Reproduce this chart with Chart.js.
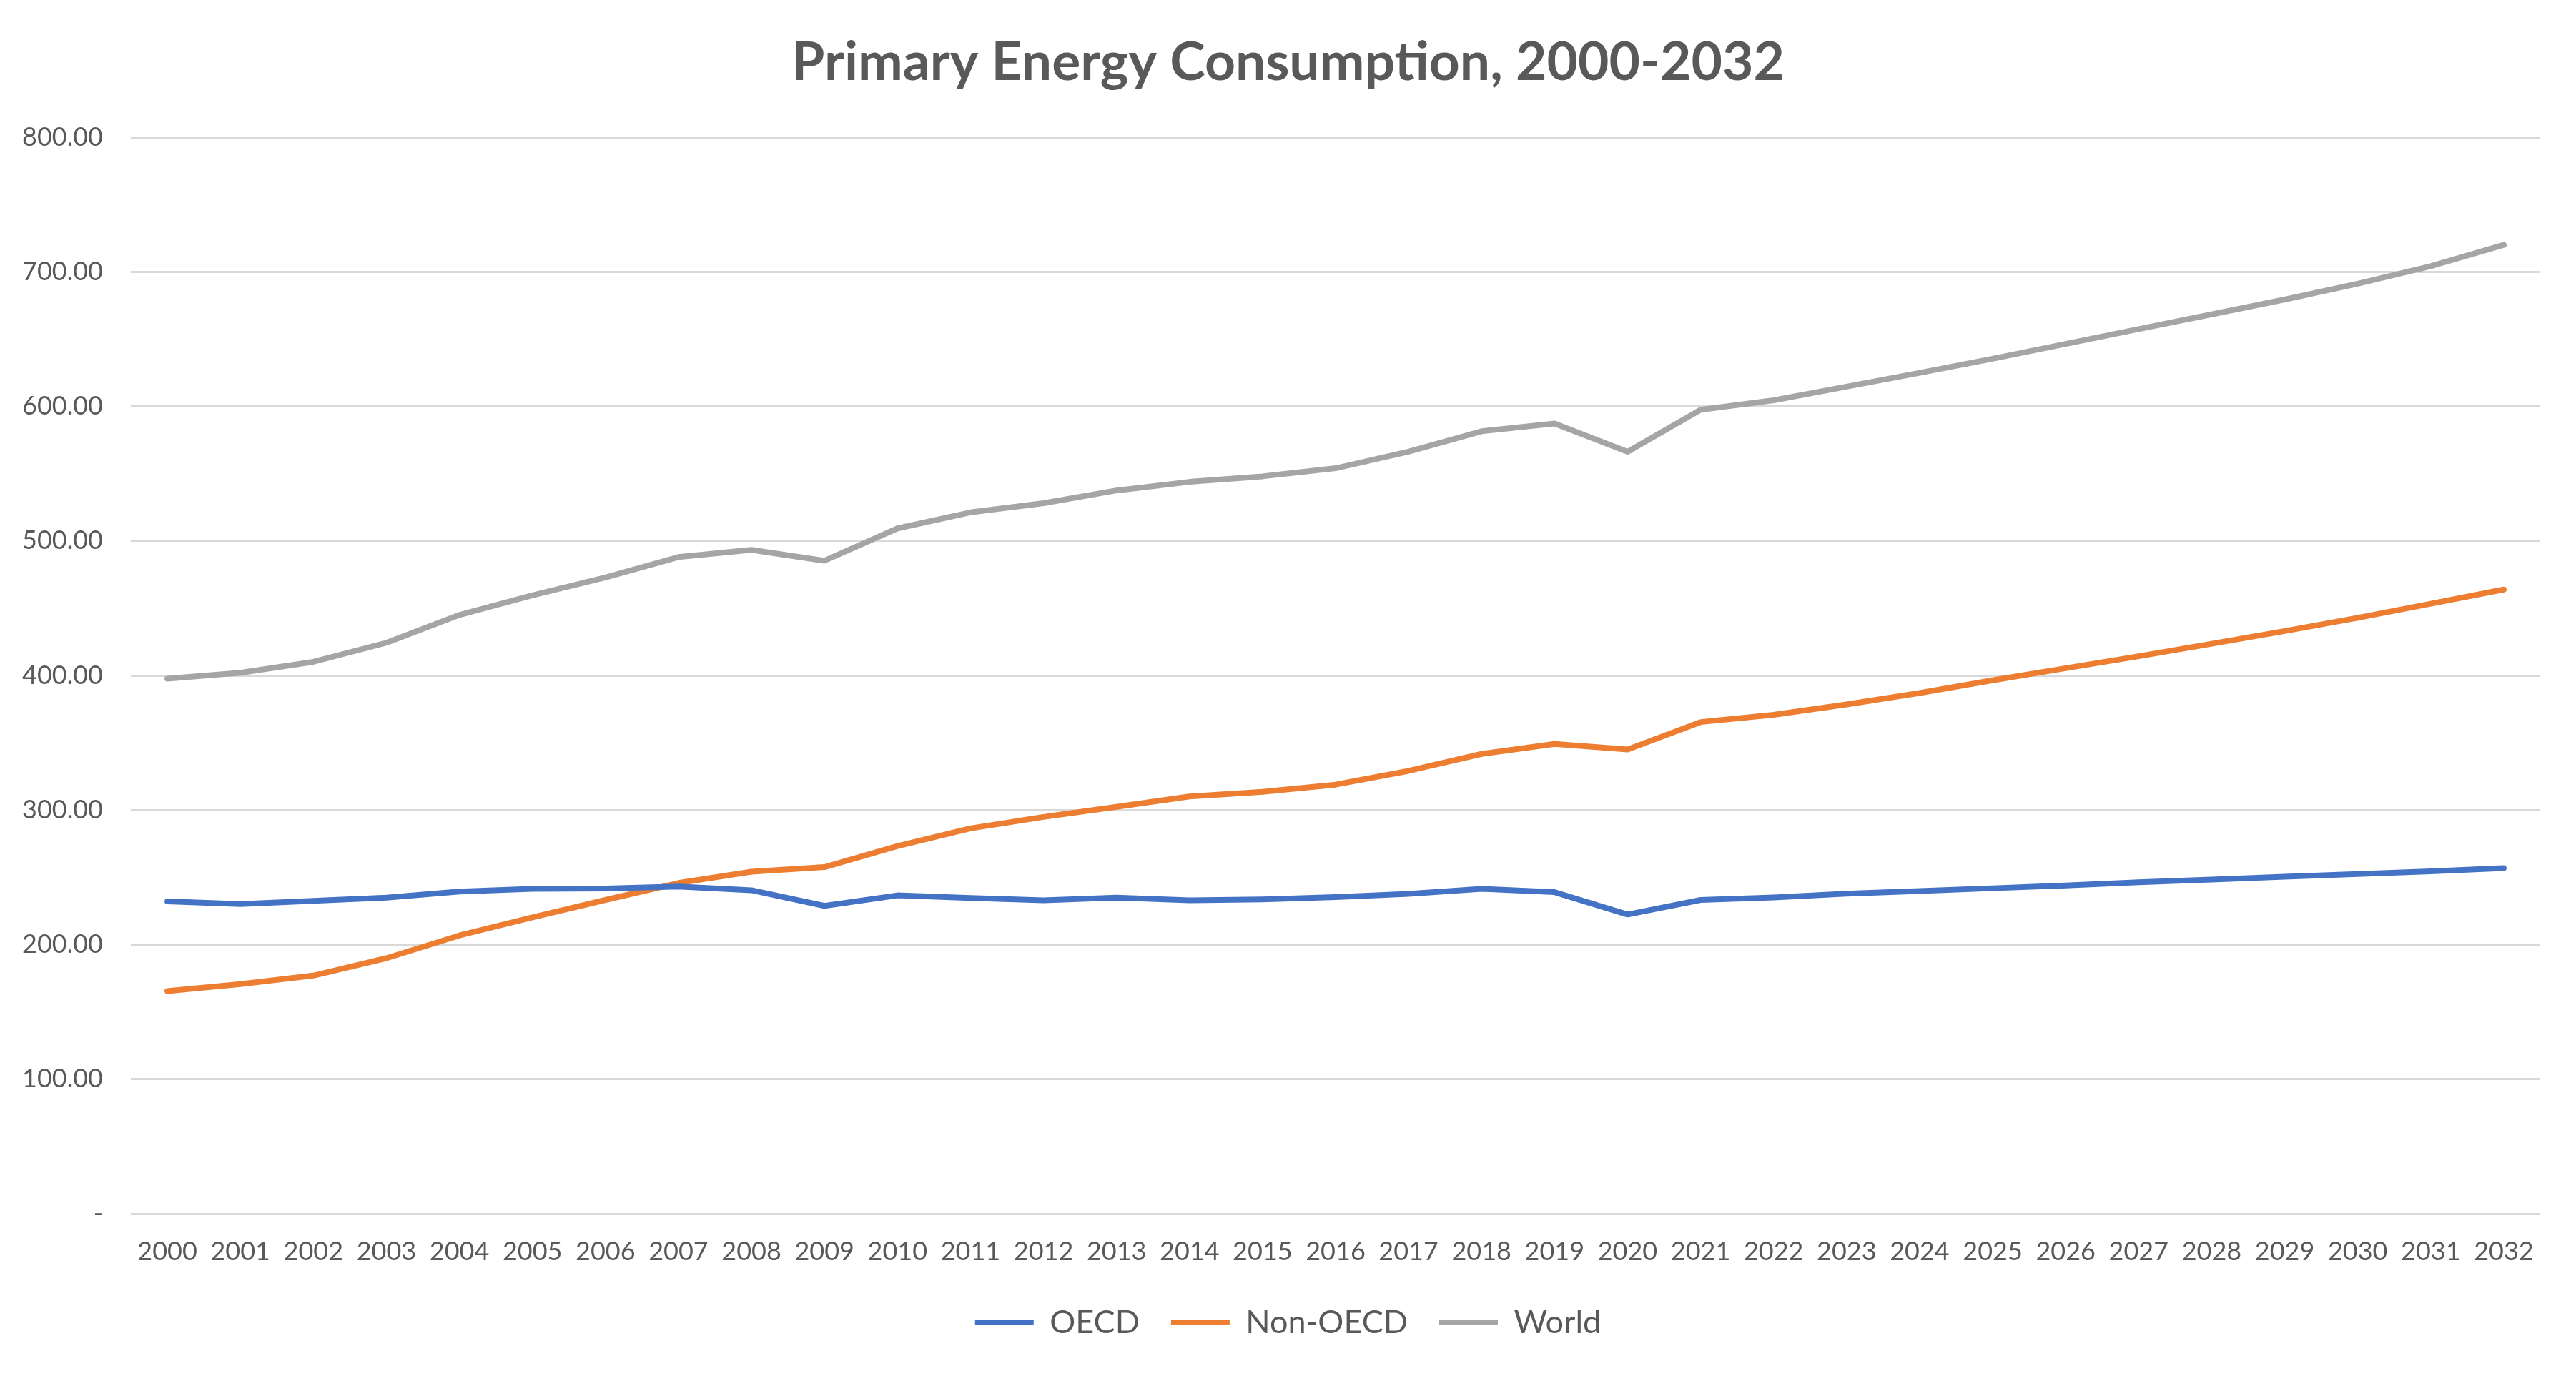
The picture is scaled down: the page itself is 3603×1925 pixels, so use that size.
<!DOCTYPE html>
<html>
<head>
<meta charset="utf-8">
<title>Primary Energy Consumption, 2000-2032</title>
<script src="https://cdn.jsdelivr.net/npm/chart.js@4.4.0/dist/chart.umd.min.js"></script>
<style>
  html, body { margin: 0; padding: 0; background: #fff; }
  #wrap { width: 3603px; height: 1925px; }
</style>
</head>
<body>
<div id="wrap"><canvas id="chart" width="3603" height="1925"></canvas></div>
<script>
'use strict';

// Data
const years = [
  '2000', '2001', '2002', '2003', '2004', '2005', '2006', '2007', '2008', '2009', '2010',
  '2011', '2012', '2013', '2014', '2015', '2016', '2017', '2018', '2019', '2020', '2021',
  '2022', '2023', '2024', '2025', '2026', '2027', '2028', '2029', '2030', '2031', '2032',
];

const oecd = [
  232.2, 230.2, 232.6, 234.9, 239.4, 241.4, 241.7, 243.1, 240.4, 228.8, 236.6,
  234.6, 232.9, 234.9, 232.9, 233.6, 235.3, 237.7, 241.4, 239.0, 222.4, 233.2,
  235.0, 237.9, 239.9, 241.9, 243.9, 246.4, 248.4, 250.4, 252.5, 254.5, 256.9,
];

const nonOecd = [
  165.5, 170.6, 177.0, 189.9, 206.8, 220.3, 233.2, 245.8, 254.2, 257.6, 273.2,
  286.4, 294.9, 302.4, 310.1, 313.5, 318.9, 329.1, 341.7, 349.1, 345.0, 365.4,
  370.8, 378.5, 387.0, 396.4, 405.4, 414.3, 423.6, 433.0, 442.8, 453.3, 463.9,
];

const world = [
  397.6, 402.0, 410.1, 424.3, 445.0, 459.6, 472.8, 488.0, 493.4, 485.3, 509.3,
  521.2, 528.0, 537.5, 543.9, 548.0, 554.0, 566.3, 581.5, 587.2, 566.3, 597.5,
  604.5, 614.7, 624.9, 635.4, 646.4, 657.4, 668.4, 679.4, 691.2, 704.2, 720.0,
];

const seriesNames = ['OECD', 'Non-OECD', 'World'];
const seriesColors = ['#4472C4', '#ED7D31', '#A5A5A5'];

const TEXT = '#595959';
const GRID = '#D9D9D9';
const FONT = 'Lato, "Open Sans", sans-serif';

function lineSet(label, data, color) {
  return {
    label,
    data,
    borderColor: color,
    backgroundColor: color,
    borderWidth: 8,
    borderCapStyle: 'round',
    borderJoinStyle: 'round',
    pointRadius: 0,
    pointHoverRadius: 0,
    tension: 0,
    fill: false,
  };
}

function draw() {
  Chart.defaults.font.family = FONT;
  Chart.defaults.color = TEXT;

  new Chart(document.getElementById('chart'), {
    type: 'line',
    data: {
      labels: years,
      datasets: [
        lineSet(seriesNames[0], oecd, seriesColors[0]),
        lineSet(seriesNames[1], nonOecd, seriesColors[1]),
        lineSet(seriesNames[2], world, seriesColors[2]),
      ],
    },
    options: {
      responsive: false,
      animation: false,
      devicePixelRatio: 1,
      layout: { padding: { left: 0, right: 0, top: 0, bottom: 42.5 } },
      plugins: {
        title: {
          display: true,
          text: 'Primary Energy Consumption, 2000-2032',
          color: TEXT,
          font: { family: FONT, size: 75, weight: 'bold', lineHeight: 1.2 },
          padding: { top: 43, bottom: 59 },
        },
        legend: {
          position: 'bottom',
          labels: {
            usePointStyle: true,
            pointStyle: 'line',
            pointStyleWidth: 82,
            color: TEXT,
            font: { family: FONT, size: 45 },
            padding: 44,
          },
        },
        tooltip: { enabled: false },
      },
      scales: {
        x: {
          offset: true,
          grid: { display: false, drawTicks: false },
          border: { display: false },
          ticks: {
            color: TEXT,
            font: { family: FONT, size: 36 },
            padding: 32,
            maxRotation: 0,
            autoSkip: false,
          },
          afterFit(scale) { scale.height = 85.5; },
        },
        y: {
          min: 0,
          max: 800,
          grid: { color: GRID, lineWidth: 3, drawTicks: false },
          border: { display: false },
          ticks: {
            stepSize: 100,
            color: TEXT,
            font: { family: FONT, size: 36 },
            padding: 39,
            callback: (v) => (v === 0 ? '-' : Number(v).toFixed(2)),
          },
          afterFit(scale) { scale.width = 183; },
        },
        // empty right-hand spacer so the title stays centred on the canvas
        spacer: {
          type: 'linear',
          position: 'right',
          display: true,
          grid: { display: false, drawTicks: false },
          border: { display: false },
          ticks: { display: false },
          afterFit(scale) { scale.width = 50; },
        },
      },
    },
  });
}

if (document.fonts && document.fonts.load) {
  Promise.all([
    document.fonts.load('36px Lato'),
    document.fonts.load('bold 75px Lato'),
  ]).then(draw, draw);
} else {
  draw();
}
</script>
</body>
</html>
